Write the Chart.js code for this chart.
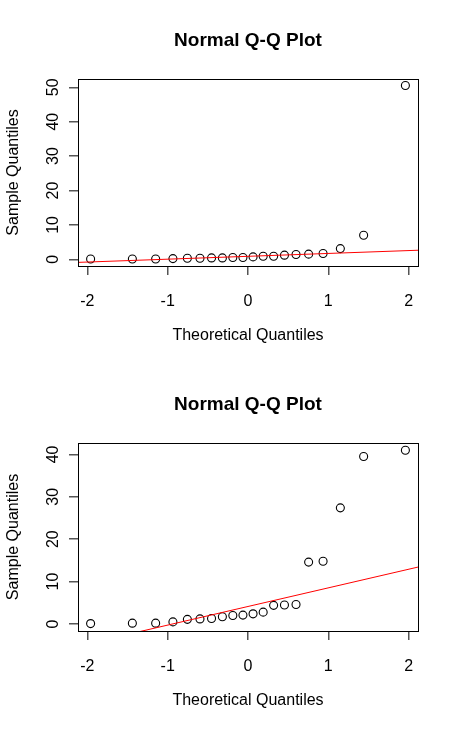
<!DOCTYPE html>
<html>
<head>
<meta charset="utf-8">
<script src="https://cdn.jsdelivr.net/npm/chart.js@4.4.1/dist/chart.umd.min.js"></script>
<style>
body { margin: 0; background: #fff; }
canvas { display: block; }
</style>
</head>
<body>
<canvas id="qqTop" width="459" height="364"></canvas>
<canvas id="qqBottom" width="459" height="365"></canvas>
<script>
// theoretical normal quantiles (20 points), shared by both plots
const theoretical = [-1.96, -1.44, -1.15, -0.935, -0.755, -0.598, -0.454, -0.319, -0.189, -0.063,
                     0.063, 0.189, 0.319, 0.454, 0.598, 0.755, 0.935, 1.15, 1.44, 1.96];
const sampleTop = [0.1, 0.1, 0.1, 0.2, 0.3, 0.3, 0.4, 0.4, 0.5, 0.5,
                   0.7, 0.9, 0.9, 1.2, 1.4, 1.5, 1.7, 3.1, 7.0, 50.5];
const sampleBottom = [0.1, 0.2, 0.2, 0.5, 1.1, 1.2, 1.3, 1.7, 2.0, 2.1,
                      2.4, 2.8, 4.4, 4.5, 4.6, 14.6, 14.8, 27.4, 39.5, 41.0];

// reference line (qqline) read at the two ends of the x range
const xLimits = [-2.117, 2.117];
const refLineTop = [-0.9, 2.63];
const refLineBottom = [-5.16, 13.43];

const xTicks = [-2, -1, 0, 1, 2];
const yTicksTop = [0, 10, 20, 30, 40, 50];
const yTicksBottom = [0, 10, 20, 30, 40];
const yLimitsTop = [-1.95, 52.4];
const yLimitsBottom = [-1.65, 42.7];

Chart.defaults.font.family = "'Liberation Sans', Arial, sans-serif";
Chart.defaults.color = "#000";

// R draws a plain box round the plot region and centres the title over it
const boxPlugin = {
  id: "rbox",
  afterLayout(chart) {
    const t = chart.titleBlock;
    if (t) {
      t.left = chart.chartArea.left;
      t.right = chart.chartArea.right;
      t.width = t.right - t.left;
    }
  },
  afterDraw(chart) {
    const a = chart.chartArea;
    const ctx = chart.ctx;
    ctx.save();
    ctx.strokeStyle = "#000";
    ctx.lineWidth = 1;
    ctx.strokeRect(Math.round(a.left) + 0.5, Math.round(a.top) + 0.5,
                   Math.round(a.right - a.left), Math.round(a.bottom - a.top));
    ctx.restore();
  }
};

function tickGrid() {
  return { display: true, drawOnChartArea: false, drawTicks: true, tickLength: 9, color: "#555", lineWidth: 1.5 };
}

function qqChart(id, sample, refLine, yLimits, yTicks) {
  const pts = theoretical.map((x, i) => ({ x: x, y: sample[i] }));
  const line = xLimits.map((x, i) => ({ x: x, y: refLine[i] }));
  return new Chart(document.getElementById(id), {
    type: "scatter",
    data: {
      datasets: [{
        data: line,
        showLine: true,
        borderColor: "#ff0000",
        borderWidth: 1,
        pointRadius: 0
      }, {
        data: pts,
        showLine: false,
        pointRadius: 4,
        pointBorderWidth: 1.1,
        pointBorderColor: "#000",
        pointBackgroundColor: "rgba(0,0,0,0)"
      }]
    },
    options: {
      responsive: false,
      animation: false,
      events: [],
      layout: { padding: { left: 0, right: 41, top: 0, bottom: 0 } },
      plugins: {
        legend: { display: false },
        tooltip: { enabled: false },
        title: {
          display: true,
          text: "Normal Q-Q Plot",
          color: "#000",
          font: { size: 19, weight: "bold" },
          padding: { top: 29.6, bottom: 26.6 }
        }
      },
      scales: {
        x: {
          type: "linear",
          position: "bottom",
          min: xLimits[0],
          max: xLimits[1],
          afterBuildTicks: s => { s.ticks = xTicks.map(v => ({ value: v })); },
          afterFit: s => { s.height = 98; },
          ticks: { font: { size: 16 }, padding: 17, maxRotation: 0, autoSkip: false, callback: v => String(v) },
          grid: tickGrid(),
          border: { display: false },
          title: { display: true, text: "Theoretical Quantiles", font: { size: 16 }, padding: { top: 0, bottom: 18.4 } }
        },
        y: {
          type: "linear",
          position: "left",
          min: yLimits[0],
          max: yLimits[1],
          afterBuildTicks: s => { s.ticks = yTicks.map(v => ({ value: v })); },
          afterFit: s => { s.width = 78; },
          ticks: { font: { size: 16 }, padding: 6.9, minRotation: 90, maxRotation: 90, crossAlign: "center", autoSkip: false, callback: v => String(v) },
          grid: tickGrid(),
          border: { display: false },
          title: { display: true, text: "Sample Quantiles", font: { size: 16 }, padding: { top: 3.8, bottom: 0 } }
        }
      }
    },
    plugins: [boxPlugin]
  });
}

qqChart("qqTop", sampleTop, refLineTop, yLimitsTop, yTicksTop);
qqChart("qqBottom", sampleBottom, refLineBottom, yLimitsBottom, yTicksBottom);
</script>
</body>
</html>
